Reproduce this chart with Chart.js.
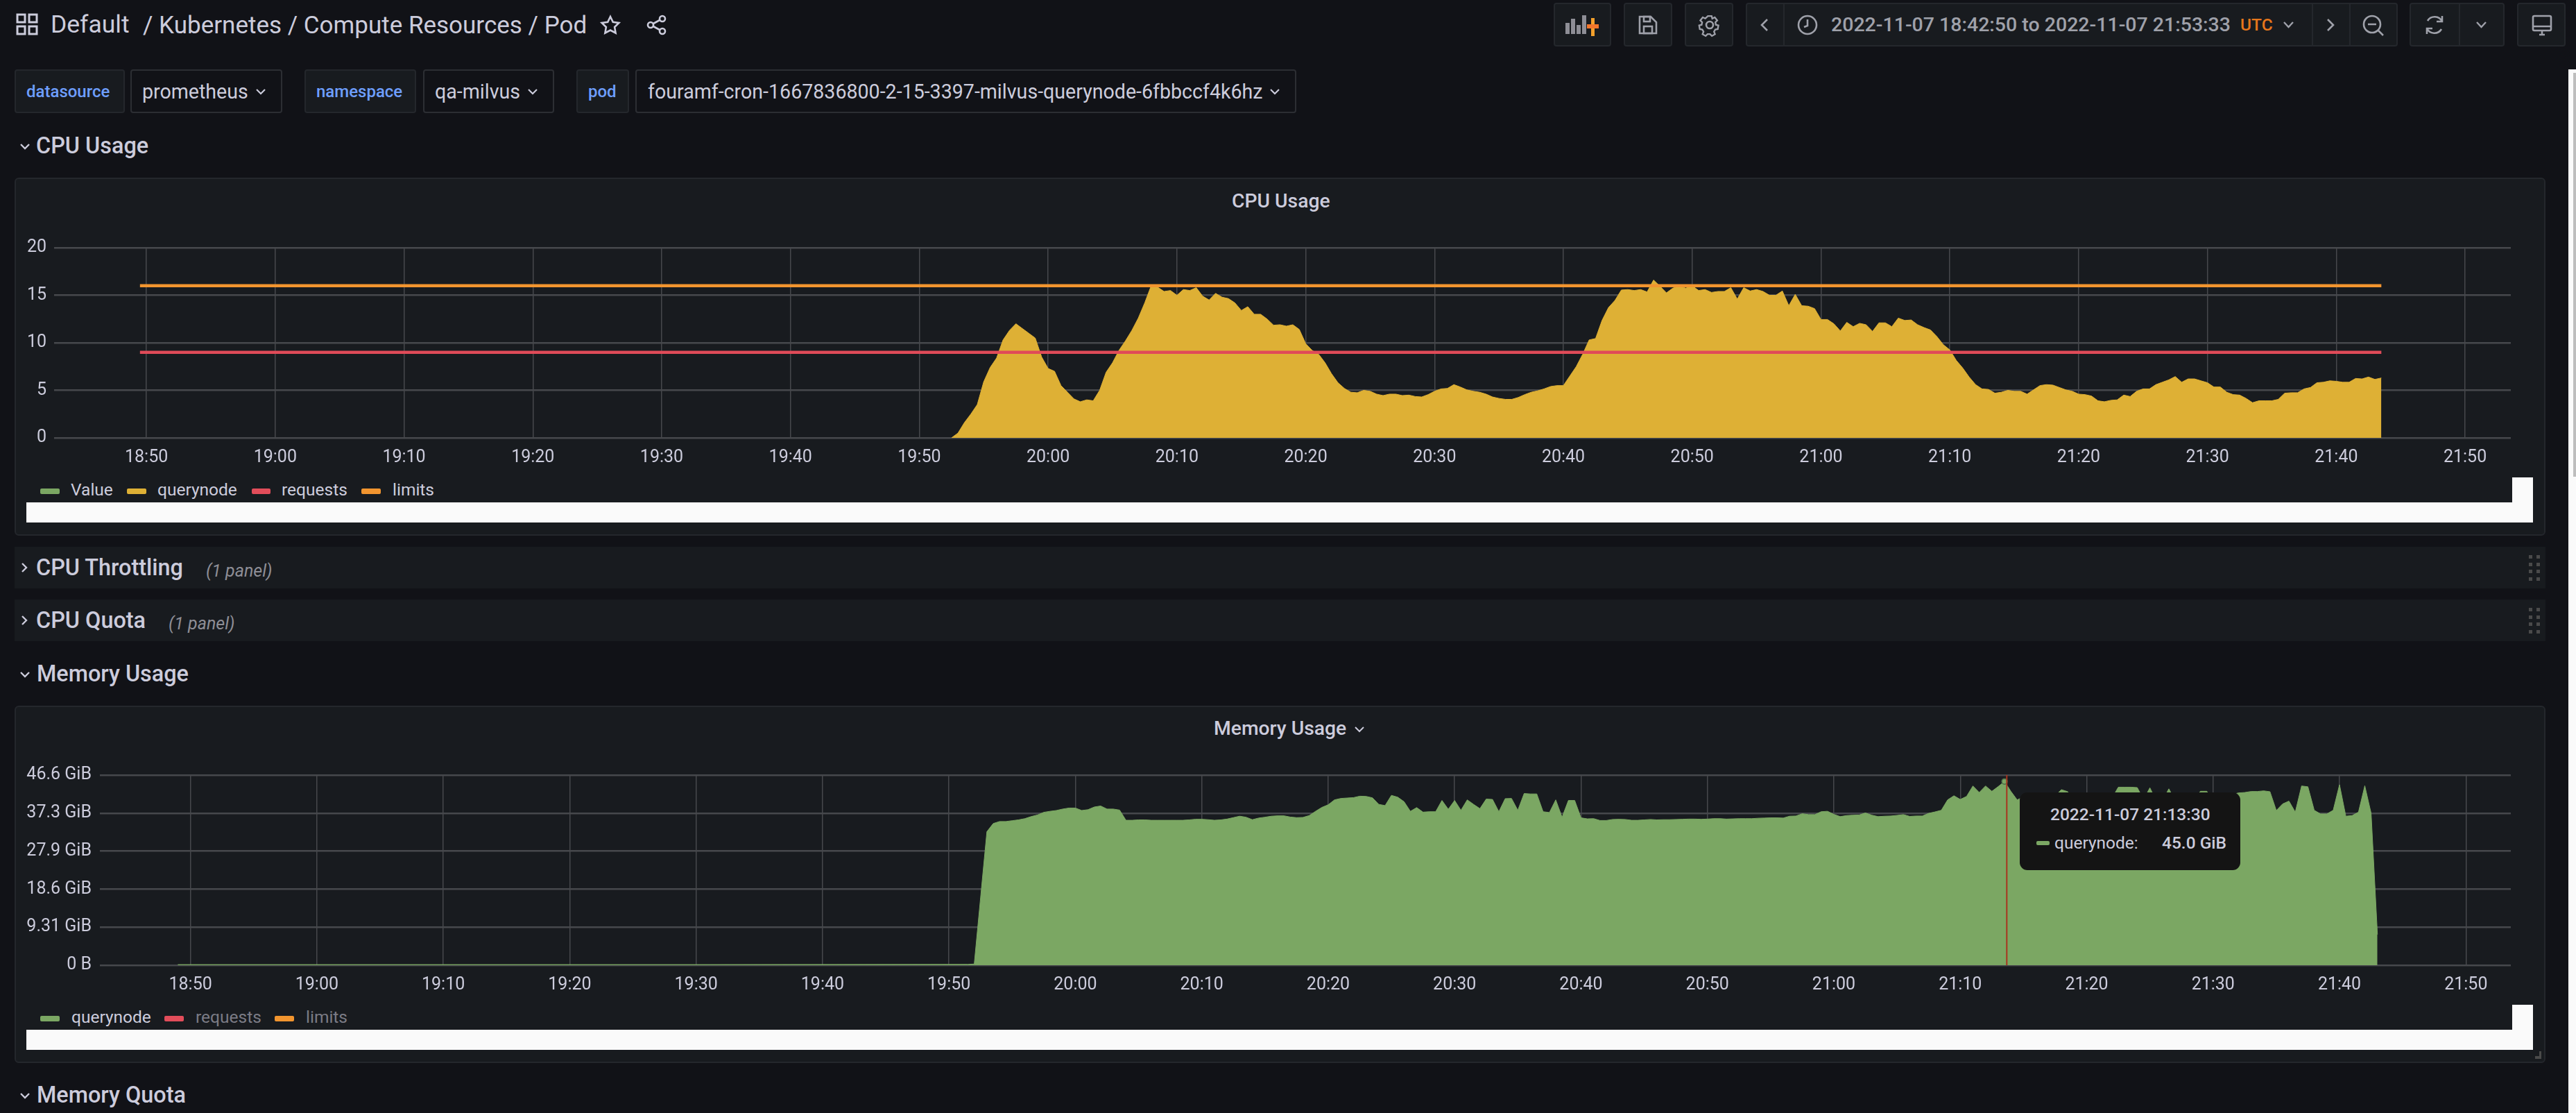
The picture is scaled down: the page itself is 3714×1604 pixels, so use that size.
<!DOCTYPE html>
<html>
<head>
<meta charset="utf-8">
<title>Kubernetes / Compute Resources / Pod</title>
<script src="https://cdn.jsdelivr.net/npm/chart.js@4/dist/chart.umd.min.js"></script>
<style>
  html, body { margin: 0; padding: 0; background: #111217; }
  body { position: relative; width: 3714px; height: 1604px; overflow: hidden; font-family: Roboto, sans-serif; color: #CCCCDC; }
  .t { position: absolute; white-space: nowrap; line-height: 1; transform: translateY(-50%); }
  .box { position: absolute; box-sizing: border-box; }
  .btn { background: #181B1F; border: 2px solid #24272C; border-radius: 4px; top: 4px; height: 63px; }
  .lab { background: #181B1F; border: 2px solid #24272C; border-radius: 4px; top: 100px; height: 63px; }
  .val { background: #111217; border: 2px solid #2C2E33; border-radius: 4px; top: 100px; height: 63px; }
  .panel { background: #181B1F; border: 2px solid #24272C; border-radius: 6px; left: 21px; width: 3649px; }
  .row { background: #181B1F; left: 21px; width: 3649px; height: 60px; }
  .white { background: #FAFAFA; position: absolute; }
  .sw { position: absolute; height: 8px; border-radius: 2px; }
  .blue { color: #6E9FFF; font-size: 24px; font-weight: 500; }
  .head { font-size: 32.4px; font-weight: 500; }
  .note { font-size: 25px; font-style: italic; color: #8E8E96; }
  .leg { font-size: 24.5px; }
  .dim { color: #7B7B85; }
  .tool { font-size: 28.5px; color: #9FA1AA; font-weight: 500; }
  .dot { position: absolute; width: 5px; height: 5px; background: #4A4A4A; }
  .var { font-size: 28.6px; }
  svg { position: absolute; overflow: visible; fill: none; }
  canvas { position: absolute; }
</style>
</head>
<body>

<!-- top bar -->
<svg style="left:24px;top:20px" width="30" height="30" stroke="#CCCCDC" stroke-width="3"><rect x="1" y="1" width="11" height="11"/><rect x="18" y="1" width="11" height="11"/><rect x="1" y="18" width="11" height="11"/><rect x="18" y="18" width="11" height="11"/></svg>
<div class="t" style="left:73px;top:36px;font-size:35.5px">Default</div>
<div class="t" style="left:206px;top:36px;font-size:35px">/ Kubernetes / Compute Resources / Pod</div>
<svg style="left:866px;top:22px" width="28" height="28" stroke="#CCCCDC" stroke-width="2.6"><path d="M14 2l3.8 7.8 8.5 1.2-6.2 6 1.5 8.5L14 21.5l-7.6 4 1.5-8.5-6.2-6 8.5-1.2z"/></svg>
<svg style="left:933px;top:22px" width="28" height="28" stroke="#CCCCDC" stroke-width="2.6"><circle cx="22" cy="5" r="4"/><circle cx="5" cy="14" r="4"/><circle cx="22" cy="23" r="4"/><path d="M9 12l9-5M9 16l9 5"/></svg>

<div class="box btn" style="left:2240px;width:83px"></div>
<svg style="left:2257px;top:22px" width="50" height="28"><g fill="#8E8E96"><rect x="0" y="11" width="6" height="16"/><rect x="8" y="5" width="6" height="22"/><rect x="16" y="14" width="6" height="13"/><rect x="24" y="0" width="6" height="27"/></g><rect x="37" y="4" width="5" height="26" fill="#F2A02C"/><rect x="31" y="13" width="17" height="6" fill="#F2762C"/></svg>
<div class="box btn" style="left:2341px;width:70px"></div>
<svg style="left:2362px;top:22px" width="28" height="28" stroke="#9FA1AA" stroke-width="2.6"><path d="M2 2h16l8 8v16H2z"/><rect x="8" y="16" width="12" height="10"/><rect x="8" y="2" width="9" height="7"/></svg>
<div class="box btn" style="left:2429px;width:70px"></div>
<svg style="left:2450px;top:21px" width="30" height="30" stroke="#9FA1AA" stroke-width="2.6"><circle cx="15" cy="15" r="5"/><path d="M12 1h6l1 4 4-2 4 5-3 3 .8 4 4 1v0l-1 6-4 .6-2 3.4 1.6 4-5 3-3-3h-4l-3 3-5-3 1.6-4-2-3.4-4-.6-1-6 4-1 .8-4-3-3 4-5 4 2z" transform="translate(1.6 1.2) scale(.9)"/></svg>

<div class="box btn" style="left:2517px;width:940px"></div>
<div class="box" style="left:2571px;top:6px;width:2px;height:59px;background:#24272C"></div>
<div class="box" style="left:3333px;top:6px;width:2px;height:59px;background:#24272C"></div>
<div class="box" style="left:3387px;top:6px;width:2px;height:59px;background:#24272C"></div>
<svg style="left:2538px;top:27px" width="12" height="18" stroke="#9FA1AA" stroke-width="2.6"><path d="M10 1L2 9l8 8"/></svg>
<svg style="left:2591px;top:21px" width="30" height="30" stroke="#9FA1AA" stroke-width="2.6"><circle cx="15" cy="15" r="13"/><path d="M15 7v9l-5 2"/></svg>
<div class="t tool" style="left:2640px;top:36px">2022-11-07 18:42:50 to 2022-11-07 21:53:33</div>
<div class="t" style="left:3230px;top:36px;font-size:24.5px;color:#E6761B;font-weight:500">UTC</div>
<svg style="left:3292px;top:31px" width="15" height="10" stroke="#9FA1AA" stroke-width="2.4"><path d="M1 1l6.5 7L14 1"/></svg>
<svg style="left:3354px;top:27px" width="12" height="18" stroke="#9FA1AA" stroke-width="2.6"><path d="M2 1l8 8-8 8"/></svg>
<svg style="left:3406px;top:21px" width="32" height="32" stroke="#9FA1AA" stroke-width="2.6"><circle cx="14" cy="14" r="12"/><path d="M8 14h12M23 23l7 7"/></svg>

<div class="box btn" style="left:3474px;width:137px"></div>
<div class="box" style="left:3545px;top:6px;width:2px;height:59px;background:#24272C"></div>
<svg style="left:3495px;top:21px" width="30" height="30" stroke="#9FA1AA" stroke-width="2.6"><path d="M5 9a12 12 0 0 1 21 1M25 21a12 12 0 0 1-21-1M26 2v8h-8M4 28v-8h8"/></svg>
<svg style="left:3570px;top:31px" width="15" height="10" stroke="#9FA1AA" stroke-width="2.4"><path d="M1 1l6.5 7L14 1"/></svg>
<div class="box btn" style="left:3629px;width:70px"></div>
<svg style="left:3650px;top:21px" width="30" height="31" stroke="#9FA1AA" stroke-width="2.6"><rect x="2" y="2" width="26" height="21" rx="2"/><path d="M2 17h26M11 29h8M15 23v6"/></svg>

<!-- variables -->
<div class="box lab" style="left:21px;width:159px"></div>
<div class="t blue" style="left:38px;top:132px">datasource</div>
<div class="box val" style="left:188px;width:219px"></div>
<div class="t var" style="left:205px;top:132px">prometheus</div>
<svg style="left:369px;top:128px" width="14" height="9" stroke="#CCCCDC" stroke-width="2.2"><path d="M1 1l6 6 6-6"/></svg>
<div class="box lab" style="left:439px;width:161px"></div>
<div class="t blue" style="left:456px;top:132px">namespace</div>
<div class="box val" style="left:610px;width:189px"></div>
<div class="t var" style="left:627px;top:132px">qa-milvus</div>
<svg style="left:761px;top:128px" width="14" height="9" stroke="#CCCCDC" stroke-width="2.2"><path d="M1 1l6 6 6-6"/></svg>
<div class="box lab" style="left:831px;width:76px"></div>
<div class="t blue" style="left:848px;top:132px">pod</div>
<div class="box val" style="left:916px;width:953px"></div>
<div class="t var" style="left:934px;top:132px">fouramf-cron-1667836800-2-15-3397-milvus-querynode-6fbbccf4k6hz</div>
<svg style="left:1831px;top:128px" width="14" height="9" stroke="#CCCCDC" stroke-width="2.2"><path d="M1 1l6 6 6-6"/></svg>

<!-- CPU Usage row -->
<svg style="left:29px;top:207px" width="14" height="9" stroke="#CCCCDC" stroke-width="2.4"><path d="M1 1l6 6 6-6"/></svg>
<div class="t head" style="left:52px;top:210px">CPU Usage</div>

<div class="box panel" style="top:256px;height:516px"></div>
<div class="t" style="left:1776px;top:290px;font-size:28.3px;font-weight:500">CPU Usage</div>
<canvas id="cpuChart" width="3649" height="354" style="left:21px;top:331px"></canvas>
<div class="sw" style="left:58px;top:704px;width:28px;background:#7BA763"></div>
<div class="t leg" style="left:102px;top:706px">Value</div>
<div class="sw" style="left:183px;top:704px;width:28px;background:#DEB035"></div>
<div class="t leg" style="left:227px;top:706px">querynode</div>
<div class="sw" style="left:363px;top:704px;width:27px;background:#E24D5A"></div>
<div class="t leg" style="left:406px;top:706px">requests</div>
<div class="sw" style="left:521px;top:704px;width:28px;background:#F2952F"></div>
<div class="t leg" style="left:566px;top:706px">limits</div>
<div class="white" style="left:38px;top:724px;width:3614px;height:29px"></div>
<div class="white" style="left:3622px;top:688px;width:30px;height:65px"></div>

<!-- collapsed rows -->
<div class="box row" style="top:788px"></div>
<svg style="left:31px;top:811px" width="9" height="14" stroke="#CCCCDC" stroke-width="2.4"><path d="M1 1l6 6-6 6"/></svg>
<div class="t head" style="left:52px;top:818px">CPU Throttling</div>
<div class="t note" style="left:297px;top:822px">(1 panel)</div>
<div class="box row" style="top:864px"></div>
<svg style="left:31px;top:887px" width="9" height="14" stroke="#CCCCDC" stroke-width="2.4"><path d="M1 1l6 6-6 6"/></svg>
<div class="t head" style="left:52px;top:894px">CPU Quota</div>
<div class="t note" style="left:243px;top:898px">(1 panel)</div>
<div id="grips"></div>

<!-- Memory Usage row -->
<svg style="left:29px;top:968px" width="14" height="9" stroke="#CCCCDC" stroke-width="2.4"><path d="M1 1l6 6 6-6"/></svg>
<div class="t head" style="left:53px;top:971px">Memory Usage</div>

<div class="box panel" style="top:1017px;height:515px"></div>
<div class="t" style="left:1750px;top:1050px;font-size:28.3px;font-weight:500">Memory Usage</div>
<svg style="left:1953px;top:1047px" width="14" height="9" stroke="#CCCCDC" stroke-width="2"><path d="M1 1l6 6 6-6"/></svg>
<canvas id="memChart" width="3649" height="355" style="left:21px;top:1090px"></canvas>
<div class="sw" style="left:58px;top:1464px;width:28px;background:#7BA763"></div>
<div class="t leg" style="left:103px;top:1466px">querynode</div>
<div class="sw" style="left:237px;top:1464px;width:28px;background:#E24D5A"></div>
<div class="t leg dim" style="left:282px;top:1466px">requests</div>
<div class="sw" style="left:396px;top:1464px;width:28px;background:#F2952F"></div>
<div class="t leg dim" style="left:441px;top:1466px">limits</div>
<div class="white" style="left:38px;top:1484px;width:3614px;height:29px"></div>
<div class="white" style="left:3622px;top:1448px;width:30px;height:65px"></div>
<svg style="left:3655px;top:1515px" width="10" height="11" fill="#4A4A4A"><path d="M6 0h3v11H0V7h6z" fill="#4A4A4A"/></svg>

<!-- hover tooltip -->
<div class="box" style="left:2912px;top:1142px;width:318px;height:112px;background:#141414;border-radius:11px"></div>
<div class="t" style="left:2956px;top:1174px;font-size:24.5px;font-weight:500">2022-11-07 21:13:30</div>
<div class="sw" style="left:2936px;top:1212px;width:19px;height:6px;background:#7BA763"></div>
<div class="t" style="left:2962px;top:1215px;font-size:24.5px">querynode:</div>
<div class="t" style="left:3117px;top:1215px;font-size:24.5px;font-weight:500">45.0 GiB</div>

<div class="t head" style="left:53px;top:1578px">Memory Quota</div>
<svg style="left:29px;top:1575px" width="14" height="9" stroke="#CCCCDC" stroke-width="2.4"><path d="M1 1l6 6 6-6"/></svg>

<!-- window edge -->
<div class="white" style="left:3703px;top:100px;width:11px;height:1504px"></div>
<div class="box" style="left:3710px;top:105px;width:4px;height:582px;background:#BDBDBD"></div>

<script>
// times are minutes since midnight, sampled every 30 seconds
const rangeStart = 1122.833;   // 18:42:50
const rangeEnd = 1313.55;      // 21:53:33

const cpuStart = 1192.5;       // 19:52:30
const cpuValues = [
  0, 0.5, 1.6, 2.5, 3.5, 5.9, 7.4, 8.4, 10.3, 11.3,
  12.0, 11.5, 11.0, 10.5, 8.5, 7.3, 7.0, 5.5, 4.8, 4.1,
  3.8, 4.0, 3.9, 5.0, 6.9, 7.9, 9.2, 10.2, 11.3, 12.6,
  14.2, 16.0, 15.85, 15.4, 15.5, 15.0, 15.6, 15.5, 15.8, 14.9,
  14.5, 15.2, 14.8, 14.65, 14.2, 13.4, 13.8, 13.0, 13.0, 12.5,
  11.85, 11.9, 11.75, 11.9, 11.4, 9.9, 9.2, 8.8, 7.9, 6.75,
  5.8, 5.2, 4.8, 4.75, 5.0, 4.9, 4.6, 4.45, 4.6, 4.6,
  4.45, 4.5, 4.35, 4.3, 4.55, 4.9, 5.15, 5.2, 5.6, 5.35,
  5.05, 4.9, 4.8, 4.6, 4.3, 4.15, 4.05, 4.05, 4.25, 4.55,
  4.8, 4.95, 5.15, 5.4, 5.5, 5.5, 6.5, 7.5, 8.8, 10.3,
  10.45, 12.35, 13.7, 14.45, 15.55, 15.6, 15.5, 15.6, 15.35, 16.6,
  15.95, 15.25, 15.75, 15.95, 15.75, 16.0, 15.5, 15.6, 15.3, 15.4,
  15.4, 15.8, 14.6, 15.8, 15.45, 15.6, 15.4, 15.0, 15.0, 15.45,
  13.9, 15.1, 13.9, 13.85, 13.6, 12.45, 12.45, 12.0, 11.25, 12.15,
  11.7, 12.05, 11.9, 11.2, 12.1, 12.1, 11.7, 12.6, 12.35, 12.4,
  11.9, 11.6, 11.35, 10.65, 9.8, 9.25, 8.15, 7.35, 6.4, 5.6,
  5.15, 5.1, 4.7, 4.8, 5.0, 4.9, 4.9, 4.6, 5.05, 5.5,
  5.6, 5.55, 5.3, 5.05, 4.9, 4.6, 4.55, 4.4, 3.9, 3.8,
  3.95, 4.0, 4.5, 4.35, 4.9, 5.15, 5.15, 5.6, 5.85, 6.1,
  6.45, 5.85, 6.2, 6.2, 6.0, 5.8, 5.35, 5.35, 4.8, 4.55,
  4.5, 4.15, 3.7, 3.9, 3.9, 3.9, 4.05, 4.7, 4.75, 4.75,
  5.15, 5.3, 5.8, 5.85, 6.0, 5.95, 5.85, 5.85, 6.25, 6.2,
  6.4, 6.15, 6.3
];
const limitTimes = [1129.5, 1303.5];
const requestsValues = [9, 9];
const limitsValues = [16, 16];
const cpuTickValues = [0, 5, 10, 15, 20];

const memIdleTimes = [1129, 1150, 1170, 1191.5];
const memIdleValues = [0.15, 0.15, 0.15, 0.2];
const memStart = 1192;         // 19:52:00
const memValues = [
  0.3, 16.5, 32.7, 34.7, 35.2, 35.2, 35.4, 35.6, 35.9, 36.4,
  36.8, 37.45, 37.7, 37.9, 38.25, 38.5, 38.5, 37.9, 38.1, 38.75,
  39.0, 38.25, 38.25, 38.0, 35.5, 35.5, 35.6, 35.6, 35.5, 35.5,
  35.5, 35.5, 35.5, 35.5, 35.6, 35.75, 35.75, 35.65, 35.5, 35.6,
  35.8, 36.15, 36.5, 36.25, 35.65, 36.05, 36.25, 36.5, 36.6, 36.6,
  36.3, 36.15, 36.2, 36.65, 37.7, 38.65, 39.3, 40.5, 40.85, 40.95,
  41.05, 41.4, 41.35, 41.0, 39.4, 39.1, 41.6, 41.15, 40.05, 37.7,
  38.6, 37.5, 37.6, 37.6, 40.35, 38.2, 40.35, 37.95, 40.5, 39.4,
  38.35, 40.7, 40.6, 37.6, 40.8, 40.85, 37.95, 42.05, 41.95, 41.95,
  37.6, 37.4, 40.5, 36.25, 40.35, 40.35, 36.1, 35.85, 35.9, 35.45,
  35.45, 35.7, 35.75, 35.7, 35.5, 35.5, 35.6, 35.7, 35.6, 35.65,
  35.65, 35.7, 35.75, 35.8, 35.8, 35.75, 35.8, 35.9, 35.9, 35.8,
  35.85, 35.9, 35.9, 35.9, 36.0, 36.05, 36.1, 36.1, 36.05, 36.5,
  36.55, 37.1, 36.9, 36.9, 37.6, 37.7, 36.95, 36.4, 36.65, 36.75,
  36.8, 37.3, 36.75, 36.4, 36.5, 36.55, 36.7, 36.9, 36.45, 36.55,
  36.55, 37.2, 37.55, 37.95, 40.5, 41.5, 40.6, 41.35, 43.9, 42.3,
  43.9, 42.6, 43.75, 45.0, 42.6, 40.5, 41.2, 41.5, 41.5, 41.5,
  41.2, 41.5, 43.0, 42.5, 40.6, 40.35, 40.35, 40.35, 40.6, 40.35,
  40.9, 43.6, 43.6, 43.6, 43.5, 40.6, 43.45, 40.3, 40.35, 43.2,
  40.35, 40.35, 40.45, 40.9, 42.6, 42.6, 40.6, 40.9, 41.2, 41.75,
  42.2, 42.3, 42.55, 42.55, 42.7, 42.5, 37.9, 39.5, 40.2, 37.5,
  43.9, 43.7, 37.95, 37.05, 37.05, 37.95, 44.2, 36.5, 36.65, 37.5,
  43.95, 37.2, 7.5
];
const memTickStep = 9.3132;
const memTickMax = 46.566;
const memTickLabels = ['0 B', '9.31 GiB', '18.6 GiB', '27.9 GiB', '37.3 GiB', '46.6 GiB'];
const hoverTime = 1273.5;      // 21:13:30
const hoverValue = 45.0;
const crosshairTime = 1273.68;

const gridColor = '#46484C';
const textColor = '#CCCCDC';
const axisFont = { family: 'Roboto', size: 25 };

function pts(xs, ys) {
  return ys.map((y, i) => ({ x: xs[i], y: y }));
}

function clock(mins) {
  const h = Math.floor(mins / 60);
  const m = Math.round(mins % 60);
  return h + ':' + String(m).padStart(2, '0');
}

// shared axes: same look on both panels, only the y side differs
function makeScales(yWidth, yOpts) {
  return {
    x: {
      type: 'linear',
      min: rangeStart,
      max: rangeEnd,
      afterFit: s => { s.height = 54; },
      border: { display: false },
      grid: { color: gridColor, lineWidth: 1.5, drawTicks: false },
      ticks: {
        stepSize: 10,
        includeBounds: false,
        autoSkip: false,
        maxRotation: 0,
        padding: 14,
        color: textColor,
        font: axisFont,
        callback: v => clock(v)
      }
    },
    y: Object.assign({
      min: 0,
      afterFit: s => { s.width = yWidth; },
      border: { display: false },
      grid: { color: gridColor, lineWidth: 2.4, drawTicks: false }
    }, yOpts)
  };
}

const baseOptions = {
  responsive: false,
  animation: false,
  devicePixelRatio: 1,
  parsing: false,
  layout: { padding: { top: 0, right: 50, left: 0, bottom: 0 } },
  elements: { point: { radius: 0 }, line: { tension: 0 } },
  plugins: { legend: { display: false }, tooltip: { enabled: false } }
};

new Chart(document.getElementById('cpuChart'), {
  type: 'line',
  data: {
    datasets: [
      { label: 'Value', data: [], borderColor: '#7BA763' },
      {
        label: 'querynode',
        data: cpuValues.map((v, i) => ({ x: cpuStart + i * 0.5, y: v })),
        borderColor: '#DEB035', borderWidth: 1, backgroundColor: '#DEB035', fill: 'origin', order: 3
      },
      { label: 'requests', data: pts(limitTimes, requestsValues), borderColor: '#E04B58', borderWidth: 4.5, order: 2 },
      { label: 'limits', data: pts(limitTimes, limitsValues), borderColor: '#F2952F', borderWidth: 4.5, order: 1 }
    ]
  },
  options: Object.assign({}, baseOptions, {
    scales: makeScales(57, {
      max: 20,
      ticks: { stepSize: 5, padding: 11, color: textColor, font: axisFont, callback: v => cpuTickValues.includes(v) ? v : '' }
    })
  })
});

new Chart(document.getElementById('memChart'), {
  type: 'line',
  data: {
    datasets: [
      {
        label: 'querynode',
        data: pts(memIdleTimes, memIdleValues).concat(memValues.map((v, i) => ({ x: memStart + i * 0.5, y: v }))),
        borderColor: '#7BA763', borderWidth: 1, backgroundColor: '#7BA763', fill: 'origin', order: 3
      },
      { label: 'requests', data: [], borderColor: '#E04B58' },
      { label: 'limits', data: [], borderColor: '#F2952F' },
      // hover crosshair and the ring on the hovered sample
      { label: 'crosshair', data: pts([crosshairTime, crosshairTime], [0, memTickMax]), borderColor: '#A8341F', borderWidth: 2, order: 1 },
      { label: 'hover', data: pts([hoverTime], [hoverValue]), pointRadius: 4, pointBorderWidth: 1.5, pointBorderColor: '#4A6A46', pointBackgroundColor: '#7BA763', order: 2 }
    ]
  },
  options: Object.assign({}, baseOptions, {
    scales: makeScales(123, {
      max: memTickMax,
      ticks: { stepSize: memTickStep, padding: 12, color: textColor, font: axisFont, callback: (v, i) => memTickLabels[i] }
    })
  })
});

// drag handles on the two collapsed rows
const grips = document.getElementById('grips');
[800, 876].forEach(top => {
  for (let r = 0; r < 4; r++) {
    [3646, 3657].forEach(left => {
      const d = document.createElement('div');
      d.className = 'dot';
      d.style.left = left + 'px';
      d.style.top = (top + r * 10.7) + 'px';
      grips.appendChild(d);
    });
  }
});
</script>
</body>
</html>
